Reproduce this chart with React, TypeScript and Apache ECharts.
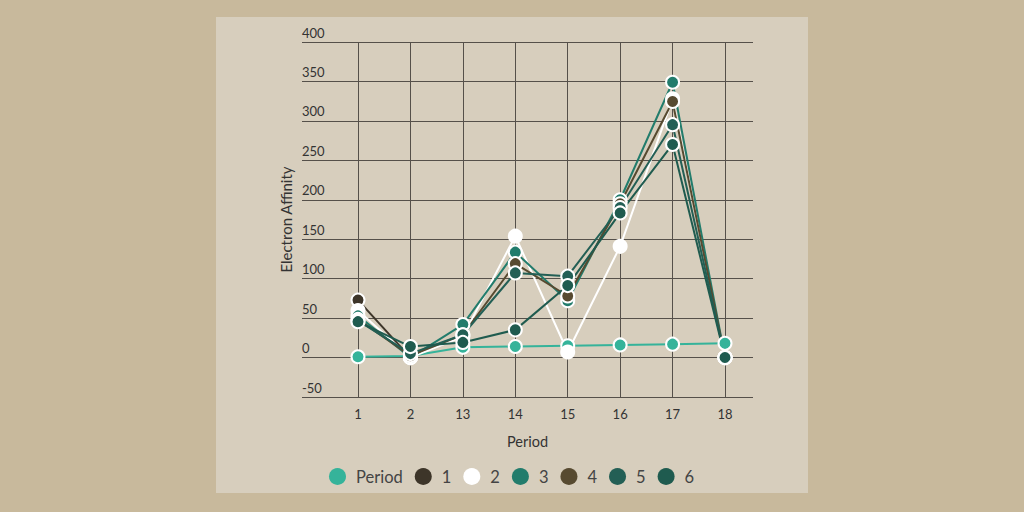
import { useEffect, useRef } from "react"
import * as echarts from "echarts"

const groups = ["1", "2", "13", "14", "15", "16", "17", "18"]
const seriesNames = ["Period", "1", "2", "3", "4", "5", "6"]
const periodRow = [1, 2, 13, 14, 15, 16, 17, 18]
const period1 = [72.8, 0, null, null, null, null, null, null]
const period2 = [59.6, 0, 26.7, 153.9, 7, 141, 328, 0]
const period3 = [52.8, 0, 41.8, 133.6, 72, 200, 349, 0]
const period4 = [48.4, 2.37, 28.9, 119, 78, 195, 324.6, 0]
const period5 = [46.9, 5.03, 28.9, 107.3, 103.2, 190.2, 295.2, 0]
const period6 = [45.5, 13.95, 19.2, 35.1, 91.2, 183.3, 270.1, 0]
const colors = ["#35b39a", "#3d3529", "#ffffff", "#227c6c", "#574a30", "#235f55", "#1f5b4f"]

const FONT = "Lato, 'Open Sans', sans-serif"

export default function App() {
  const hostRef = useRef<HTMLDivElement>(null)

  useEffect(() => {
    const el = hostRef.current
    if (!el) return
    const chart = echarts.init(el, undefined, { renderer: "svg" })
    const rows = [periodRow, period1, period2, period3, period4, period5, period6]

    chart.setOption({
      animation: false,
      textStyle: { fontFamily: FONT },
      graphic: [
        {
          type: "rect",
          left: 216,
          top: 17,
          shape: { width: 592, height: 476 },
          style: { fill: "rgba(235,235,235,0.42)" },
          z: -10,
        },
      ],
      grid: [
        { left: 302, right: 271, top: 42, bottom: 115 },
        { left: 358, right: 299, top: 42, bottom: 115 },
      ],
      xAxis: [
        {
          gridIndex: 0,
          type: "value",
          min: 0,
          max: 1,
          axisLine: { show: false },
          axisTick: { show: false },
          axisLabel: { show: false },
          splitLine: { show: false },
          name: "Period",
          nameLocation: "middle",
          nameGap: 37,
          nameTextStyle: { color: "#333", fontSize: 14.5, fontFamily: FONT },
        },
        {
          gridIndex: 1,
          type: "category",
          boundaryGap: false,
          data: groups,
          axisLine: { show: false },
          axisTick: { show: false },
          axisLabel: { color: "#333", fontSize: 13, margin: 10, fontFamily: FONT },
          splitLine: { show: true, lineStyle: { color: "#55504a", width: 1 } },
        },
      ],
      yAxis: [
        {
          gridIndex: 0,
          type: "value",
          min: -50,
          max: 400,
          interval: 50,
          axisLine: { show: false },
          axisTick: { show: false },
          axisLabel: {
            inside: true,
            align: "left",
            verticalAlign: "bottom",
            margin: 0,
            padding: [0, 0, 3, 0],
            color: "#333",
            fontSize: 13,
            fontFamily: FONT,
          },
          splitLine: { lineStyle: { color: "#55504a", width: 1 } },
          name: "Electron Affinity",
          nameLocation: "middle",
          nameGap: 9,
          nameTextStyle: { color: "#333", fontSize: 15, fontFamily: FONT },
        },
        {
          gridIndex: 1,
          type: "value",
          min: -50,
          max: 400,
          interval: 50,
          show: false,
          splitLine: { show: false },
        },
      ],
      legend: {
        top: 463,
        left: 324,
        icon: "circle",
        itemWidth: 17,
        itemHeight: 17,
        itemGap: 12,
        itemStyle: { borderWidth: 0 },
        textStyle: { color: "#444", fontSize: 16.5, fontFamily: FONT, padding: [0, 0, 0, 5] },
        data: seriesNames,
      },
      series: seriesNames.map((name, i) => ({
        name,
        type: "line",
        xAxisIndex: 1,
        yAxisIndex: 1,
        data: rows[i],
        symbol: "circle",
        symbolSize: 13,
        lineStyle: { color: colors[i], width: 2 },
        itemStyle: { color: colors[i], borderColor: "#fff", borderWidth: 2 },
        emphasis: { disabled: true },
      })),
    })

    return () => {
      chart.dispose()
    }
  }, [])

  return (
    <div
      style={{
        position: "fixed",
        left: 0,
        top: 0,
        width: 1024,
        height: 512,
        background: "#c8b99c",
      }}
    >
      <div ref={hostRef} style={{ width: 1024, height: 512 }} />
    </div>
  )
}
